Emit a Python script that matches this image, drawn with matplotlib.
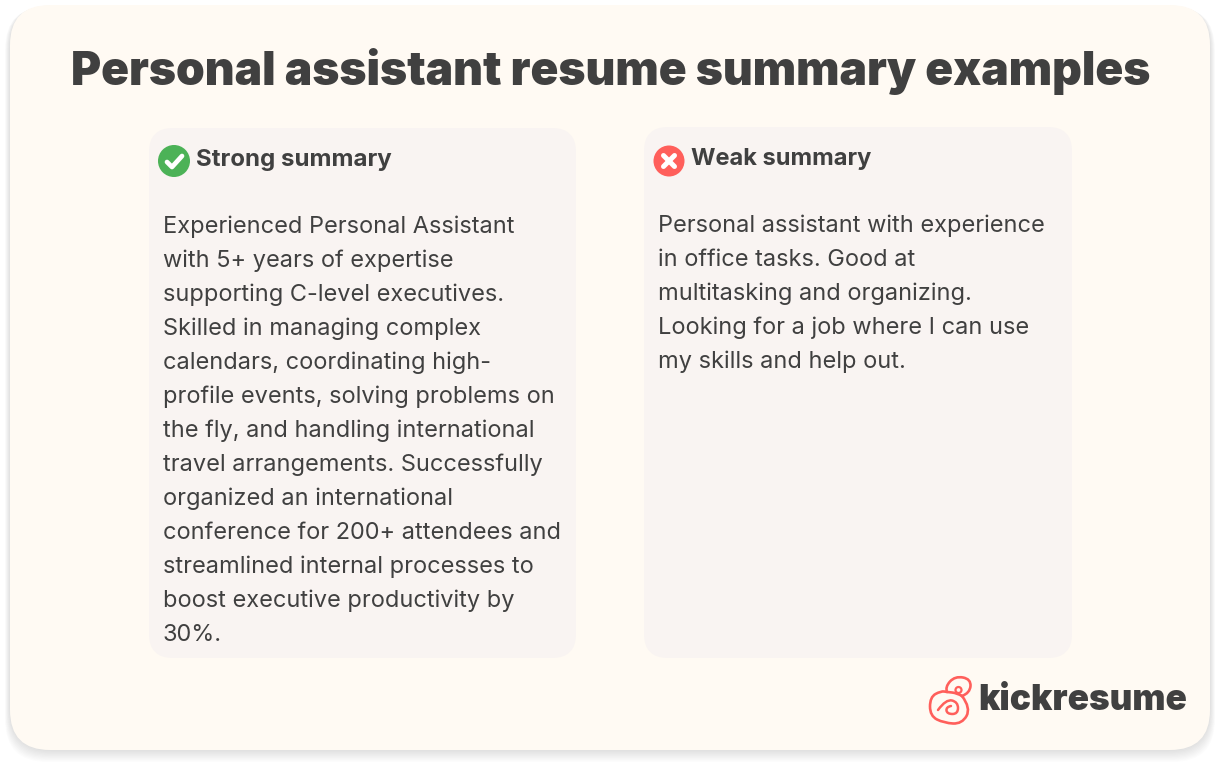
import matplotlib
matplotlib.use('Agg')
import matplotlib.pyplot as plt
from matplotlib.patches import FancyBboxPatch, Circle, PathPatch
from matplotlib.path import Path
from matplotlib.lines import Line2D

title = 'Personal assistant resume summary examples'
strong_head = 'Strong summary'
weak_head = 'Weak summary'
strong_lines = ['Experienced Personal Assistant',
                'with 5+ years of expertise',
                'supporting C-level executives.',
                'Skilled in managing complex',
                'calendars, coordinating high-',
                'profile events, solving problems on',
                'the fly, and handling international',
                'travel arrangements. Successfully',
                'organized an international',
                'conference for 200+ attendees and',
                'streamlined internal processes to',
                'boost executive productivity by',
                '30%.']
weak_lines = ['Personal assistant with experience',
              'in office tasks. Good at',
              'multitasking and organizing.',
              'Looking for a job where I can use',
              'my skills and help out.']
brand = 'kickresume'

DARK = '#404040'
CREAM = '#FFFAF3'
PANEL = '#F9F4F2'
GREEN = '#4CB257'
RED = '#FF5F5B'

plt.rcParams['font.family'] = ['Inter', 'DejaVu Sans']

fig = plt.figure(figsize=(12.2, 7.65), dpi=100, facecolor='white')
ax = fig.add_axes([0, 0, 1, 1])
ax.set_xlim(0, 1220)
ax.set_ylim(765, 0)
ax.axis('off')

def rbox(x0, y0, x1, y1, r, **kw):
    p = FancyBboxPatch((x0 + r, y0 + r), x1 - x0 - 2*r, y1 - y0 - 2*r,
                       boxstyle='round,pad=%f,rounding_size=%f' % (r, r), **kw)
    ax.add_patch(p)

def smooth(pts, **kw):
    # quadratic curve through the midpoints of pts
    verts = [pts[0]]
    codes = [Path.MOVETO]
    for a, b in zip(pts[1:-1], pts[2:]):
        verts += [a, ((a[0] + b[0])/2, (a[1] + b[1])/2)]
        codes += [Path.CURVE3, Path.CURVE3]
    verts[-1] = pts[-1]
    ax.add_patch(PathPatch(Path(verts, codes), fc='none', capstyle='round', joinstyle='round', **kw))

# soft shadow below the card
for i in range(10, 0, -1):
    rbox(10 - i*0.5, 5 + i*0.2, 1210 + i*0.5, 750 + i*1.2, 42, fc='black', ec='none', alpha=0.012)

rbox(10, 5, 1210, 750, 40, fc=CREAM, ec='none')
rbox(149, 128, 576, 658, 24, fc=PANEL, ec='none')
rbox(644, 127, 1072, 658, 24, fc=PANEL, ec='none')

ax.text(610.5, 71, title, fontsize=33.2, fontweight='black', color=DARK, ha='center', va='center')

ax.text(196, 160, strong_head, fontsize=17.3, fontweight='bold', color=DARK, va='center')
ax.text(691, 159, weak_head, fontsize=17, fontweight='bold', color=DARK, va='center')

for i, line in enumerate(strong_lines):
    ax.text(163, 227 + i*34, line, fontsize=16.95, color=DARK, va='center')
for i, line in enumerate(weak_lines):
    ax.text(658, 226 + i*34, line, fontsize=16.95, color=DARK, va='center')

# check and cross icons
ax.add_patch(Circle((174, 161), 16, fc=GREEN, ec='none'))
ax.add_line(Line2D([167, 172, 182], [162, 167, 156], color='white', lw=3.4, solid_capstyle='round', solid_joinstyle='round'))
ax.add_patch(Circle((669, 161), 15.5, fc=RED, ec='none'))
ax.add_line(Line2D([663.5, 674.5], [155.5, 166.5], color='white', lw=3.6, solid_capstyle='round'))
ax.add_line(Line2D([663.5, 674.5], [166.5, 155.5], color='white', lw=3.6, solid_capstyle='round'))

# logo
ax.text(978, 701, brand, fontsize=25.3, fontweight='black', color=DARK, va='center')
smooth([(947, 692), (945, 687), (955, 676), (971, 679), (970, 693), (962, 696)], ec=RED, lw=1.9)
smooth([(962, 696), (971, 708), (962, 724), (944, 723), (930, 716), (930, 697), (941, 691), (947, 692), (957, 693), (962, 696)], ec=RED, lw=1.9)
ax.add_patch(Circle((958.5, 690), 3, fc='none', ec=RED, lw=1.6))
smooth([(938, 710), (946, 699), (958, 702), (958, 714), (947, 714), (946, 707), (951, 706)], ec=RED, lw=1.8)

fig.savefig('out.png', dpi=100, facecolor='white')
